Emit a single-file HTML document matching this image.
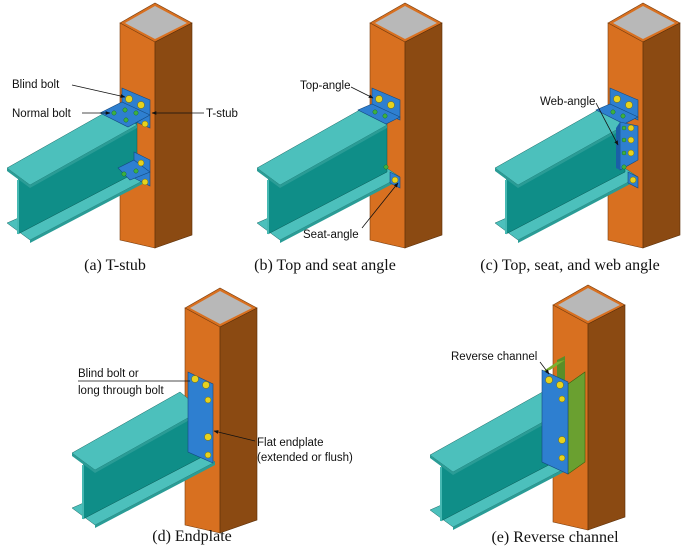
<!DOCTYPE html>
<html><head><meta charset="utf-8"><style>
html,body{margin:0;padding:0;background:#fff;}
svg{display:block;}
.l{font-family:"Liberation Sans","DejaVu Sans",sans-serif;font-size:11.5px;fill:#111;}
.c{font-family:"Liberation Serif",serif;font-size:16px;fill:#111;text-anchor:middle;}
</style></head><body>
<svg width="685" height="550" viewBox="0 0 685 550" xmlns="http://www.w3.org/2000/svg">
<defs>
<marker id="ar" viewBox="0 0 10 10" refX="9" refY="5" markerWidth="6" markerHeight="6" orient="auto"><path d="M0,1 L10,5 L0,9z" fill="#111"/></marker>
<g id="col">
  <polygon points="120,23 155,3 192,23 155,42" fill="#d87020" stroke="#7a3e0e" stroke-width="0.6"/>
  <polygon points="125,23 155,6 187,23 155,39" fill="#b8b8b8"/>
  <polygon points="120,23 155,42 155,248 120,240" fill="#d87020" stroke="#7a3e0e" stroke-width="0.6"/>
  <polygon points="155,42 192,23 192,235 155,248" fill="#8b4a12" stroke="#5a2e08" stroke-width="0.6"/>
</g>
<g id="beam">
  <polygon points="7,223 135,167 150,177 30,240" fill="#4cc0bc" stroke="#1a6a66" stroke-width="0.5"/>
  <polygon points="30,240 150,177 150,180 30,243" fill="#2a9c96"/>
  <polygon points="18,180 137,113 137,172 18,234" fill="#0f8e88" stroke="#0a5a56" stroke-width="0.5"/>
  <polygon points="17,180 19,180 19,234 17,234" fill="#46b8b2"/>
  <polygon points="7,168 115,107 137,125 30,185" fill="#4cc0bc" stroke="#1a6a66" stroke-width="0.5"/>
  <polygon points="30,185 137,125 137,128 30,188" fill="#2a9c96"/>
  <polygon points="7,168 30,185 30,188 7,171" fill="#2a9c96"/>
</g>
<g id="beamL">
  <polygon points="-3,228 135,167 150,177 20,245" fill="#4cc0bc" stroke="#1a6a66" stroke-width="0.5"/>
  <polygon points="20,245 150,177 150,180 20,248" fill="#2a9c96"/>
  <polygon points="8,185 137,113 137,172 8,239" fill="#0f8e88" stroke="#0a5a56" stroke-width="0.5"/>
  <polygon points="7,185 9,185 9,239 7,239" fill="#46b8b2"/>
  <polygon points="-3,173 115,107 137,125 20,190" fill="#4cc0bc" stroke="#1a6a66" stroke-width="0.5"/>
  <polygon points="20,190 137,125 137,128 20,193" fill="#2a9c96"/>
  <polygon points="-3,173 20,190 20,193 -3,176" fill="#2a9c96"/>
</g>
</defs>

<!-- (a) -->
<use href="#col"/><use href="#beam"/>
<polygon points="122,88 150,100 150,128 122,116" fill="#2e7fd0" stroke="#154a80" stroke-width="0.6"/>
<polygon points="100,113 122,102 150,115 128,127" fill="#2e7fd0" stroke="#154a80" stroke-width="0.6"/>
<polygon points="134,152 150,160 150,186 134,178" fill="#2e7fd0" stroke="#154a80" stroke-width="0.6"/>
<polygon points="118,168 134,160 150,172 130,180" fill="#2e7fd0" stroke="#154a80" stroke-width="0.6"/>
<g fill="#e6d21e" stroke="#7a6a00" stroke-width="0.5"><circle cx="129" cy="99" r="3.5"/><circle cx="141" cy="105" r="3.5"/><circle cx="145" cy="124" r="3"/><circle cx="141" cy="163" r="3"/><circle cx="145" cy="182" r="3"/></g>
<g fill="#3cb040" stroke="#1a6a20" stroke-width="0.4"><circle cx="114" cy="113" r="2.2"/><circle cx="125" cy="110" r="2.2"/><circle cx="136" cy="113" r="2.2"/><circle cx="126" cy="120" r="2.2"/><circle cx="124" cy="174" r="2.2"/><circle cx="136" cy="171" r="2.2"/></g>
<text class="l" x="12" y="88">Blind bolt</text>
<line x1="72" y1="85" x2="125" y2="97" stroke="#111" stroke-width="0.8" marker-end="url(#ar)"/>
<text class="l" x="12" y="117">Normal bolt</text>
<line x1="82" y1="113" x2="110" y2="113" stroke="#111" stroke-width="0.8" marker-end="url(#ar)"/>
<text class="l" x="206" y="117">T-stub</text>
<line x1="204" y1="113" x2="152" y2="113" stroke="#111" stroke-width="0.8" marker-end="url(#ar)"/>
<text class="c" x="115" y="270">(a) T-stub</text>

<!-- (b) -->
<g transform="translate(250,0)">
<use href="#col"/><use href="#beam"/>
<polygon points="122,88 150,100 150,120 122,108" fill="#2e7fd0" stroke="#154a80" stroke-width="0.6"/>
<polygon points="108,110 122,104 150,117 136,124" fill="#2e7fd0" stroke="#154a80" stroke-width="0.6"/>
<polygon points="140,172 150,177 150,188 140,183" fill="#2e7fd0" stroke="#154a80" stroke-width="0.6"/>
<g fill="#e6d21e" stroke="#7a6a00" stroke-width="0.5"><circle cx="129" cy="99" r="3.5"/><circle cx="141" cy="105" r="3.5"/><circle cx="145" cy="180" r="3"/></g>
<g fill="#3cb040" stroke="#1a6a20" stroke-width="0.4"><circle cx="125" cy="112" r="2.2"/><circle cx="135" cy="116" r="2.2"/><circle cx="136" cy="167" r="2.2"/></g>
<text class="l" x="50" y="89">Top-angle</text>
<line x1="101" y1="87" x2="123" y2="98" stroke="#111" stroke-width="0.8" marker-end="url(#ar)"/>
<text class="l" x="53" y="238">Seat-angle</text>
<line x1="112" y1="228" x2="148" y2="183" stroke="#111" stroke-width="0.8" marker-end="url(#ar)"/>
<text class="c" x="75" y="270">(b) Top and seat angle</text>
</g>

<!-- (c) -->
<g transform="translate(488,0)">
<use href="#col"/><use href="#beam"/>
<polygon points="122,88 150,100 150,120 122,108" fill="#2e7fd0" stroke="#154a80" stroke-width="0.6"/>
<polygon points="108,110 122,104 150,117 136,124" fill="#2e7fd0" stroke="#154a80" stroke-width="0.6"/>
<polygon points="132,122 150,126 150,160 132,170" fill="#2e7fd0" stroke="#154a80" stroke-width="0.6"/>
<polygon points="128,128 132,122 132,170 128,168" fill="#1a5fa8"/>
<polygon points="140,172 150,177 150,188 140,183" fill="#2e7fd0" stroke="#154a80" stroke-width="0.6"/>
<g fill="#e6d21e" stroke="#7a6a00" stroke-width="0.5"><circle cx="129" cy="99" r="3.5"/><circle cx="141" cy="105" r="3.5"/><circle cx="143" cy="128" r="3"/><circle cx="143" cy="140" r="3"/><circle cx="143" cy="153" r="3"/><circle cx="145" cy="180" r="3"/></g>
<g fill="#3cb040" stroke="#1a6a20" stroke-width="0.4"><circle cx="125" cy="112" r="2.2"/><circle cx="135" cy="116" r="2.2"/><circle cx="136" cy="128" r="2"/><circle cx="136" cy="140" r="2"/><circle cx="136" cy="153" r="2"/><circle cx="136" cy="167" r="2.2"/></g>
<text class="l" x="52" y="105">Web-angle</text>
<line x1="108" y1="103" x2="130" y2="145" stroke="#111" stroke-width="0.8" marker-end="url(#ar)"/>
<text class="c" x="82" y="270">(c) Top, seat, and web angle</text>
</g>

<!-- (d) -->
<g transform="translate(65,285)">
<use href="#col"/><use href="#beam"/>
<polygon points="123,87 148,99 148,178 123,167" fill="#2e7fd0" stroke="#154a80" stroke-width="0.6"/>
<g fill="#e6d21e" stroke="#7a6a00" stroke-width="0.5"><circle cx="130" cy="94" r="3.5"/><circle cx="141" cy="100" r="3.5"/><circle cx="143" cy="115" r="3"/><circle cx="143" cy="152" r="3.5"/><circle cx="143" cy="170" r="3"/></g>
<text class="c" x="127" y="256">(d) Endplate</text>
</g>
<text class="l" x="78" y="377">Blind bolt or</text>
<line x1="78" y1="381" x2="190" y2="381" stroke="#111" stroke-width="0.8"/>
<text class="l" x="78" y="394">long through bolt</text>
<text class="l" x="257" y="446">Flat endplate</text>
<text class="l" x="257" y="461">(extended or flush)</text>
<line x1="255" y1="441" x2="214" y2="431" stroke="#111" stroke-width="0.8" marker-end="url(#ar)"/>

<!-- (e) -->
<g transform="translate(433,282)">
<use href="#col"/><use href="#beamL"/>
<polygon points="124,78 132,74 132,190 124,186" fill="#5a8e28"/>
<polygon points="109,90 124,80 132,78 117,88" fill="#7cb030"/>
<polygon points="135,102 152,90 152,180 135,192" fill="#6aa030" stroke="#3a6010" stroke-width="0.6"/>
<polygon points="109,88 135,100 135,192 109,180" fill="#2e7fd0" stroke="#154a80" stroke-width="0.6"/>
<g fill="#e6d21e" stroke="#7a6a00" stroke-width="0.5"><circle cx="116" cy="98" r="3.5"/><circle cx="127" cy="103" r="3.5"/><circle cx="129" cy="117" r="3"/><circle cx="129" cy="158" r="3.5"/><circle cx="129" cy="176" r="3"/></g>
<text class="c" x="122" y="260">(e) Reverse channel</text>
</g>
<text class="l" x="451" y="360">Reverse channel</text>
<line x1="540" y1="362" x2="549" y2="374" stroke="#111" stroke-width="0.8" marker-end="url(#ar)"/>
</svg>
</body></html>
